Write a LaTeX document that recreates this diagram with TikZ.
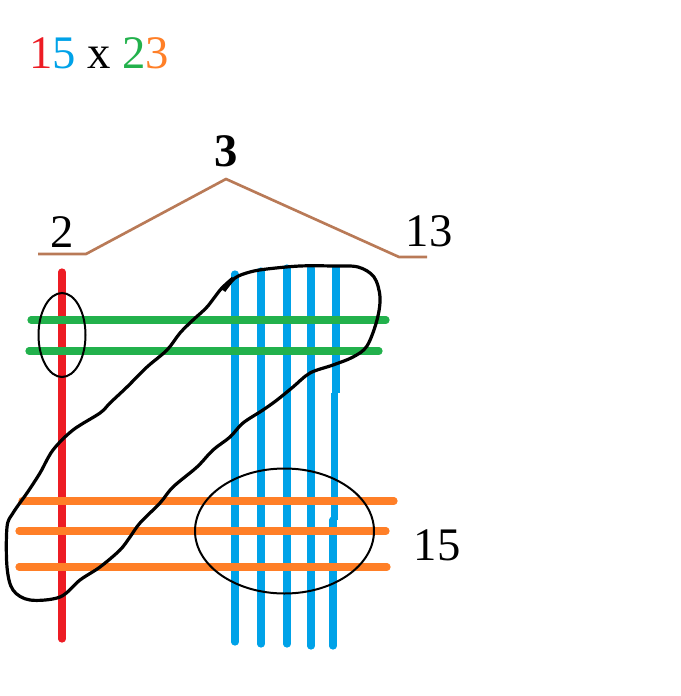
\documentclass[tikz,border=0pt]{standalone}
\usepackage{tikz}
\usepackage{fontspec}
\setmainfont{Liberation Serif}
\definecolor{paintred}{RGB}{237,28,36}
\definecolor{paintblue}{RGB}{0,162,232}
\definecolor{paintgreen}{RGB}{34,177,76}
\definecolor{paintorange}{RGB}{255,127,39}
\definecolor{paintbrown}{RGB}{185,122,87}
\begin{document}
\begin{tikzpicture}[x=0.75pt,y=0.75pt,yscale=-1,xscale=1,
  stick/.style={line width=5.4pt,line cap=round},
  loop/.style={draw=black,line width=1.6pt},
  bigtext/.style={inner sep=0pt,font=\fontsize{35}{40}\selectfont}]
\useasboundingbox (0,0) rectangle (681,696);

%Straight Lines (red)
\draw [stick,color=paintred] (62,272) -- (62,639) ;
%Straight Lines (blue)
\foreach \xb/\ya/\yb in {235/274/642, 261/271/644, 287/268/644, 311/268/646}
  \draw [stick,color=paintblue] (\xb,\ya) -- (\xb,\yb) ;
\draw [stick,color=paintblue,line cap=butt] (336,266) -- (336,393) ;
\draw [stick,color=paintblue,line cap=butt] (334.5,393) -- (334.5,520) ;
\draw [stick,color=paintblue] (333,520) -- (333,646) ;
%Straight Lines (green)
\draw [stick,color=paintgreen] (31,320) -- (386,320) ;
\draw [stick,color=paintgreen] (29,351) -- (379,351) ;
%Straight Lines (orange)
\draw [stick,color=paintorange] (22,501) -- (394,501) ;
\draw [stick,color=paintorange] (19,531) -- (386,531) ;
\draw [stick,color=paintorange] (19,567) -- (387,567) ;

%Shape: Ellipse
\draw [loop,line width=1.5pt] (62,335) ellipse (23.5 and 42) ;
%Shape: Ellipse
\draw [loop,line width=1.5pt] (284.5,531) ellipse (89.5 and 62.5) ;

%Curve Lines
\draw [loop,line width=2.4pt,line join=round] plot [smooth,tension=0.55] coordinates {
  (224,291) (235,278) (250,272) (267,269) (300,266) (333,266) (358,267)
  (374,277) (380,297) (377,320) (367,346) (353,357) (333,365) (310,373)
  (293,387) (277,400) (263,410) (243,423) (230,437) (213,450) (197,467)
  (173,487) (160,503) (140,523) (130,537) (120,550) (100,567) (80,580)
  (60,597) (30,600) (13,590) (7,567) (7,527) (13,513) (27,493) (40,473)
  (53,450) (73,430) (100,413) (110,403) (127,387) (147,367) (167,350)
  (180,333) (193,320) (207,307) (221,289) (233,278) };

%Straight Lines (brown)
\coordinate (leftend) at (38,254) ;
\coordinate (leftknee) at (86,254) ;
\coordinate (apex) at (226,179) ;
\coordinate (rightknee) at (399,257) ;
\coordinate (rightend) at (427,257) ;
\draw [color=paintbrown,line width=2pt] (leftend) -- (leftknee) -- (apex) -- (rightknee) -- (rightend) ;

% Text Node
\node (title) [bigtext,anchor=base west] at (29,68) {{\color{paintred}1}{\color{paintblue}5} x {\color{paintgreen}2}{\color{paintorange}3}};
% Text Node
\node (topthree) [bigtext,anchor=base,font=\fontsize{35}{40}\selectfont\bfseries] at (226,166) {3};
% Text Node
\node (lefttwo) [bigtext,anchor=base] at (62,247) {2};
% Text Node
\node (rightthirteen) [bigtext,anchor=base] at (429,246) {13};
% Text Node
\node (bottomfifteen) [bigtext,anchor=base] at (437,560) {15};

\end{tikzpicture}
\end{document}
